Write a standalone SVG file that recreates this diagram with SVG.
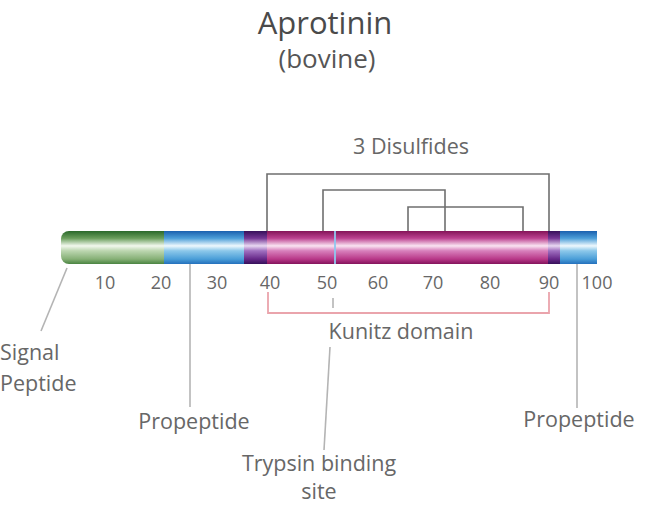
<svg xmlns="http://www.w3.org/2000/svg" width="650" height="516" viewBox="0 0 650 516">
<defs>
<style>
text{font-family:"Open Sans","Liberation Sans",sans-serif;fill:#676767}
.title{font-size:31px;fill:#4a4a4a}
.sub{font-size:26px;fill:#555}
.lbl{font-size:21.5px}
.tick{font-size:18px}
.ss{fill:none;stroke:#6f6f6f;stroke-width:1.6}
.ptr{fill:none;stroke:#b4b4b4;stroke-width:1.6}
.kun{fill:none;stroke:#eaa4ac;stroke-width:1.8}
</style>
<linearGradient id="gGreen" x1="0" y1="0" x2="0" y2="1">
<stop offset="0" stop-color="#2a682a"/>
<stop offset="0.22" stop-color="#6a9e5c"/>
<stop offset="0.45" stop-color="#f2f8ee"/>
<stop offset="0.6" stop-color="#bcd6b0"/>
<stop offset="0.85" stop-color="#86b076"/>
<stop offset="1" stop-color="#4a8442"/>
</linearGradient>
<linearGradient id="gBlue" x1="0" y1="0" x2="0" y2="1">
<stop offset="0" stop-color="#1a60ae"/>
<stop offset="0.22" stop-color="#4c9ed8"/>
<stop offset="0.45" stop-color="#eef8fd"/>
<stop offset="0.6" stop-color="#8cc8ea"/>
<stop offset="0.85" stop-color="#4a9ed8"/>
<stop offset="1" stop-color="#2470bc"/>
</linearGradient>
<linearGradient id="gMag" x1="0" y1="0" x2="0" y2="1">
<stop offset="0" stop-color="#841458"/>
<stop offset="0.22" stop-color="#bc4290"/>
<stop offset="0.45" stop-color="#fae4f2"/>
<stop offset="0.6" stop-color="#d880bc"/>
<stop offset="0.85" stop-color="#b83888"/>
<stop offset="1" stop-color="#84145c"/>
</linearGradient>
<linearGradient id="gPur" x1="0" y1="0" x2="0" y2="1">
<stop offset="0" stop-color="#36105a"/>
<stop offset="0.22" stop-color="#743694"/>
<stop offset="0.45" stop-color="#e8d8f2"/>
<stop offset="0.6" stop-color="#a070c0"/>
<stop offset="0.85" stop-color="#662888"/>
<stop offset="1" stop-color="#36105a"/>
</linearGradient>
</defs>
<rect width="650" height="516" fill="#fff"/>

<g id="title">
<text class="title" x="325" y="34" text-anchor="middle">Aprotinin</text>
<text class="sub" x="327" y="68" text-anchor="middle">(bovine)</text>
</g>

<g id="connectors">
<path class="ss" d="M267,232V174H549V232"/>
<path class="ss" d="M323,232V190H445V232"/>
<path class="ss" d="M408,232V207H523V232"/>
<path class="kun" d="M268,292V313H549V292"/>
<path class="ptr" d="M67,268L41,331"/>
<path class="ptr" d="M190,264V407"/>
<path class="ptr" d="M333,298V308"/>
<path class="ptr" d="M330,347L324,450"/>
<path class="ptr" d="M577,264V408"/>
</g>

<g id="bar">
<path d="M69,231H165V264H69A8,8 0 0 1 61,256V239A8,8 0 0 1 69,231Z" fill="url(#gGreen)"/>
<rect x="164" y="231" width="81" height="33" fill="url(#gBlue)"/>
<rect x="244" y="231" width="24" height="33" fill="url(#gPur)"/>
<rect x="267" y="231" width="282" height="33" fill="url(#gMag)"/>
<rect x="548" y="231" width="13" height="33" fill="url(#gPur)"/>
<rect x="560" y="231" width="37" height="33" fill="url(#gBlue)"/>
<rect x="334" y="231" width="2" height="33" fill="#8ec8ee" opacity="0.9"/>
</g>

<g id="ticks">
<text class="tick" x="105" y="289" text-anchor="middle">10</text>
<text class="tick" x="161" y="289" text-anchor="middle">20</text>
<text class="tick" x="217" y="289" text-anchor="middle">30</text>
<text class="tick" x="270" y="289" text-anchor="middle">40</text>
<text class="tick" x="327" y="289" text-anchor="middle">50</text>
<text class="tick" x="378" y="289" text-anchor="middle">60</text>
<text class="tick" x="433" y="289" text-anchor="middle">70</text>
<text class="tick" x="490" y="289" text-anchor="middle">80</text>
<text class="tick" x="549" y="289" text-anchor="middle">90</text>
<text class="tick" x="597" y="289" text-anchor="middle">100</text>
</g>

<g id="disulfides">
<text class="lbl" x="411" y="154" text-anchor="middle">3 Disulfides</text>
</g>
<g id="kunitz">
<text class="lbl" x="401" y="339" text-anchor="middle">Kunitz domain</text>
</g>
<g id="signal">
<text class="lbl" x="0" y="360">Signal</text>
<text class="lbl" x="0" y="391">Peptide</text>
</g>
<g id="propeptide1">
<text class="lbl" x="194" y="429" text-anchor="middle">Propeptide</text>
</g>
<g id="trypsin">
<text class="lbl" x="319" y="471" text-anchor="middle">Trypsin binding</text>
<text class="lbl" x="319" y="499" text-anchor="middle">site</text>
</g>
<g id="propeptide2">
<text class="lbl" x="579" y="427" text-anchor="middle">Propeptide</text>
</g>
</svg>
